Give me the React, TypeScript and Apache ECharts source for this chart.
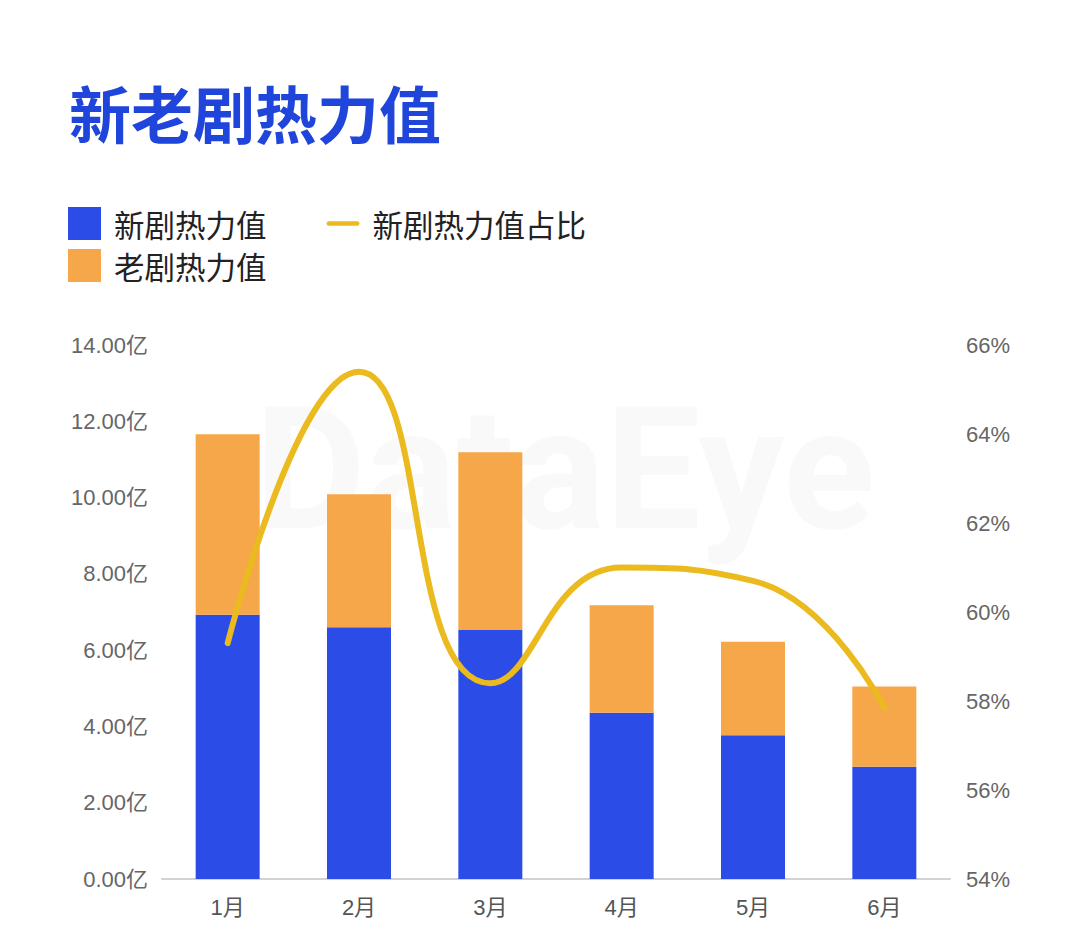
import React, { useEffect, useRef } from "react";
import * as echarts from "echarts";

const months = ["1月", "2月", "3月", "4月", "5月", "6月"];
const newHeat = [6.93, 6.6, 6.53, 4.36, 3.77, 2.94];
const oldHeat = [4.73, 3.49, 4.66, 2.82, 2.45, 2.11];
const newShare = [59.3, 65.4, 58.4, 61.0, 60.7, 57.85];
const leftTicks = { min: 0, max: 14, interval: 2 };
const rightTicks = { min: 54, max: 66, interval: 2 };

const BLUE = "#2C4CE8";
const ORANGE = "#F5A74A";
const YELLOW = "#EBBA1E";
const FONT = "'Noto Sans CJK SC', 'Noto Sans', sans-serif";
const AXIS_FONT = "'Liberation Sans', Arial, 'Noto Sans CJK SC', sans-serif";

export default function App() {
  const ref = useRef<HTMLDivElement>(null);
  useEffect(() => {
    document.body.style.margin = "0";
    if (!ref.current) return;
    const chart = echarts.init(ref.current, null, { renderer: "svg" });
    chart.setOption({
      animation: false,
      backgroundColor: "#ffffff",
      textStyle: { fontFamily: FONT },
      title: {
        text: "新老剧热力值",
        left: 64,
        top: 76,
        textStyle: { color: "#1F45DB", fontSize: 62, fontWeight: "bold", fontFamily: FONT },
      },
      graphic: [
        {
          type: "text",
          z: -10,
          left: 255,
          top: 385,
          style: {
            text: "DataEye",
            fontSize: 170,
            fontWeight: "bold",
            fontFamily: "Roboto, sans-serif",
            fill: "#f9f9f9",
          },
        },
      ],
      legend: [
        {
          left: 63,
          top: 202,
          itemWidth: 33,
          itemHeight: 33,
          itemGap: 60,
          data: [
            { name: "新剧热力值", icon: "rect" },
            {
              name: "新剧热力值占比",
              icon: "path://M2.5,0 L32.5,0 A2.5,2.5 0 0 1 32.5,5 L2.5,5 A2.5,2.5 0 0 1 2.5,0 Z",
            },
          ],
          textStyle: { fontSize: 30.5, color: "#222", padding: [0, 0, 0, 8] },
        },
        {
          left: 63,
          top: 244,
          itemWidth: 33,
          itemHeight: 33,
          data: [{ name: "老剧热力值", icon: "rect" }],
          textStyle: { fontSize: 30.5, color: "#222", padding: [0, 0, 0, 8] },
        },
      ],
      grid: { left: 162, right: 130, top: 345, bottom: 47 },
      xAxis: {
        type: "category",
        data: months,
        axisLine: { lineStyle: { color: "#d2d2d2", width: 2 } },
        axisTick: { show: false },
        axisLabel: { fontSize: 22, color: "#555", margin: 17, fontFamily: AXIS_FONT },
      },
      yAxis: [
        {
          type: "value",
          min: leftTicks.min,
          max: leftTicks.max,
          interval: leftTicks.interval,
          splitLine: { show: false },
          axisLine: { show: false },
          axisTick: { show: false },
          axisLabel: {
            fontSize: 22,
            color: "#666",
            margin: 14,
            fontFamily: AXIS_FONT,
            formatter: (v: number) => v.toFixed(2) + "亿",
          },
        },
        {
          type: "value",
          min: rightTicks.min,
          max: rightTicks.max,
          interval: rightTicks.interval,
          splitLine: { show: false },
          axisLine: { show: false },
          axisTick: { show: false },
          axisLabel: {
            fontSize: 22,
            color: "#666",
            margin: 16,
            fontFamily: AXIS_FONT,
            formatter: (v: number) => v + "%",
          },
        },
      ],
      series: [
        {
          name: "新剧热力值",
          type: "bar",
          stack: "heat",
          barWidth: 64,
          data: newHeat,
          itemStyle: { color: BLUE },
        },
        {
          name: "老剧热力值",
          type: "bar",
          stack: "heat",
          barWidth: 64,
          data: oldHeat,
          itemStyle: { color: ORANGE },
        },
        {
          name: "新剧热力值占比",
          type: "line",
          yAxisIndex: 1,
          smooth: 0.5,
          symbol: "none",
          data: newShare,
          lineStyle: { color: YELLOW, width: 6, cap: "round" },
          itemStyle: { color: YELLOW },
          z: 5,
        },
      ],
    });
    return () => chart.dispose();
  }, []);
  return <div ref={ref} style={{ width: 1080, height: 926 }} />;
}
